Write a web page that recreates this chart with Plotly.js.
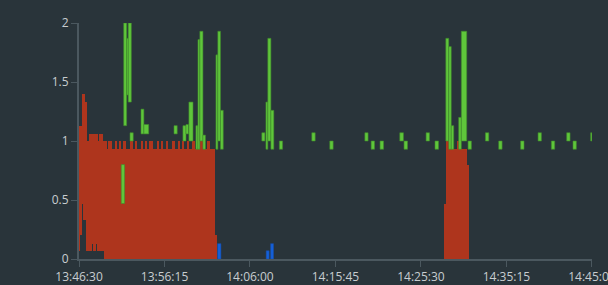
<!DOCTYPE html>
<html>
<head>
<meta charset="utf-8">
<script src="https://cdn.plot.ly/plotly-3.0.1.min.js"></script>
<style>
html,body{margin:0;padding:0;background:#29343a;}
#chart{width:608px;height:285px;}
</style>
</head>
<body>
<div id="chart"></div>
<script>
// ---- data (times on 2024-01-01) ----
const day = '2024-01-01';
const xTickLabels = ['13:46:30','13:56:15','14:06:00','14:15:45','14:25:30','14:35:15','14:45:00'];
const yTickValues = [0, 0.5, 1, 1.5, 2];

// red series: segments [start, end], bar from low to high
const redStart = ['13:46:30','13:46:37','13:46:51','13:46:57','13:47:11','13:47:18','13:47:25','13:47:38','13:47:59','13:48:06','13:48:26','13:48:33','13:48:40','13:48:47','13:49:14',
  '13:49:21','14:01:58',
  '13:49:21','13:49:48','13:50:36','13:51:04','13:51:31','13:52:19','13:52:53','13:53:34','13:54:01','13:54:29','13:55:23','13:55:51','13:56:25','13:57:06','13:57:47','13:58:14','13:58:48','13:59:23','14:00:17','14:01:05',
  '14:28:06','14:28:20','14:28:20','14:29:35','14:30:43'];
const redEnd = ['13:46:37','13:46:51','13:46:57','13:47:11','13:47:18','13:47:25','13:47:38','13:47:59','13:48:06','13:48:26','13:48:33','13:48:40','13:48:47','13:49:14','13:49:21',
  '14:01:58','14:02:11',
  '13:49:41','13:50:16','13:50:50','13:51:17','13:51:51','13:52:39','13:53:07','13:53:48','13:54:15','13:54:56','13:55:37','13:56:04','13:56:39','13:57:26','13:58:01','13:58:28','13:59:02','13:59:43','14:00:38','14:01:26',
  '14:28:20','14:30:43','14:28:40','14:29:55','14:30:57'];
const redLow = [0.07,0.20,0.47,0.33,0.33,0.07,0.07,0.07,0.13,0.07,0.13,0.07,0.07,0.07,0.07,
  0,0,
  0.93,0.93,0.93,0.93,0.93,0.93,0.93,0.93,0.93,0.93,0.93,0.93,0.93,0.93,0.93,0.93,0.93,0.93,0.93,0.93,
  0,0,0.93,0.93,0];
const redHigh = [1.13,1.13,1.40,1.40,1.33,1.33,1.00,1.06,1.06,1.06,1.06,1.06,1.00,1.06,1.00,
  0.93,0.20,
  1.00,1.00,1.00,1.00,1.00,1.00,1.00,1.00,1.00,1.00,1.00,1.00,1.00,1.00,1.00,1.00,1.00,1.00,1.00,1.00,
  0.47,0.93,1.00,1.00,0.80];

// blue series
const blueStart = ['14:02:18','14:07:51','14:08:21'];
const blueEnd   = ['14:02:41','14:08:11','14:08:41'];
const blueLow   = [0,0,0];
const blueHigh  = [0.13,0.07,0.13];

// green series
const greenStart = ['13:51:19','13:51:36','13:51:56','13:52:07','13:52:19','13:53:34','13:53:54','13:57:20','13:58:21','13:58:42','13:59:02','13:59:50','14:00:04','14:00:17','14:00:38',
  '14:02:07','14:02:20','14:02:38','14:07:21','14:07:49','14:08:02','14:08:23','14:09:21',
  '14:13:03','14:15:06','14:19:06','14:19:49','14:20:50','14:23:05','14:23:34','14:26:05','14:27:06',
  '14:28:20','14:28:40','14:28:57','14:29:48','14:30:06','14:30:52',
  '14:32:51','14:34:22','14:36:52','14:38:51','14:40:22','14:42:07','14:42:50','14:44:51'];
const greenEnd = ['13:51:42','13:51:56','13:52:07','13:52:28','13:52:41','13:53:54','13:54:27','13:57:42','13:58:42','13:58:59','13:59:30','14:00:04','14:00:17','14:00:38','14:00:55',
  '14:02:20','14:02:38','14:02:57','14:07:42','14:08:02','14:08:23','14:08:43','14:09:43',
  '14:13:26','14:15:29','14:19:28','14:20:12','14:21:14','14:23:30','14:23:58','14:26:28','14:27:30',
  '14:28:40','14:28:57','14:29:14','14:30:06','14:30:43','14:31:15',
  '14:33:14','14:34:45','14:37:15','14:39:14','14:40:45','14:42:30','14:43:13','14:45:00'];
const greenLow = [0.47,1.13,1.39,1.33,1.00,1.06,1.06,1.06,1.00,1.06,1.00,0.93,0.93,1.00,0.93,
  0.93,1.00,0.93,1.00,0.93,1.00,0.93,0.93,
  1.00,0.93,1.00,0.93,0.93,1.00,0.93,1.00,0.93,
  1.00,0.93,0.93,0.93,1.00,0.93,
  1.00,0.93,0.93,1.00,0.93,1.00,0.93,1.00];
const greenHigh = [0.80,2.00,1.87,2.00,1.07,1.27,1.14,1.13,1.13,1.14,1.33,1.13,1.86,1.93,1.05,
  1.73,1.93,1.26,1.07,1.33,1.87,1.26,1.00,
  1.07,1.00,1.07,1.00,1.00,1.07,1.00,1.07,1.00,
  1.87,1.80,1.13,1.20,1.93,1.00,
  1.07,1.00,1.00,1.07,1.00,1.07,1.00,1.07];

// ---- helpers ----
function toSec(t){ const p = t.split(':').map(Number); return p[0]*3600 + p[1]*60 + p[2]; }
function dateStr(sec){
  const d = new Date(Date.UTC(2024,0,1) + Math.round(sec*1000));
  return d.toISOString().replace('T',' ').replace('Z','');
}
function barTrace(starts, ends, lows, highs, color, lineColor, lineWidth, name){
  const x = [], w = [], base = [], y = [];
  for (let i = 0; i < starts.length; i++){
    const s = toSec(starts[i]), e = toSec(ends[i]);
    x.push(dateStr((s+e)/2));
    w.push((e-s)*1000);
    base.push(lows[i]);
    y.push(highs[i]-lows[i]);
  }
  return {type:'bar', name:name, x:x, y:y, base:base, width:w,
    marker:{color:color, line:{color:lineColor, width:lineWidth}},
    hoverinfo:'skip', showlegend:false};
}

const traces = [
  barTrace(redStart, redEnd, redLow, redHigh, '#ae351d', '#ae351d', 0, 'red'),
  barTrace(blueStart, blueEnd, blueLow, blueHigh, '#1460d8', '#1a4fa8', 0.5, 'blue'),
  barTrace(greenStart, greenEnd, greenLow, greenHigh, '#5fc63b', '#3f8a2c', 0.6, 'green')
];

const axisCol = '#4b585f';
const layout = {
  width:608, height:285,
  paper_bgcolor:'#29343a', plot_bgcolor:'#29343a',
  margin:{l:79, r:16, t:23, b:26, pad:0},
  barmode:'overlay', bargap:0,
  font:{family:'Open Sans, Noto Sans, sans-serif', size:12, color:'#c8cdd0'},
  showlegend:false,
  xaxis:{type:'date',
    range:[day+' 13:46:30', day+' 14:45:00.2'],
    tickvals:xTickLabels.map(t => day+' '+t), ticktext:xTickLabels,
    ticklabeloverflow:'allow',
    showgrid:false, zeroline:false, showline:true, linecolor:axisCol, linewidth:2,
    ticks:'outside', ticklen:6, tickcolor:axisCol, tickwidth:1, fixedrange:true},
  yaxis:{range:[0,2], tickvals:yTickValues, ticktext:yTickValues.map(String),
    showgrid:false, zeroline:false, showline:true, linecolor:axisCol, linewidth:2,
    ticks:'outside', ticklen:6, tickcolor:axisCol, tickwidth:1, fixedrange:true}
};

Plotly.newPlot('chart', traces, layout, {displayModeBar:false, staticPlot:true});
</script>
</body>
</html>
